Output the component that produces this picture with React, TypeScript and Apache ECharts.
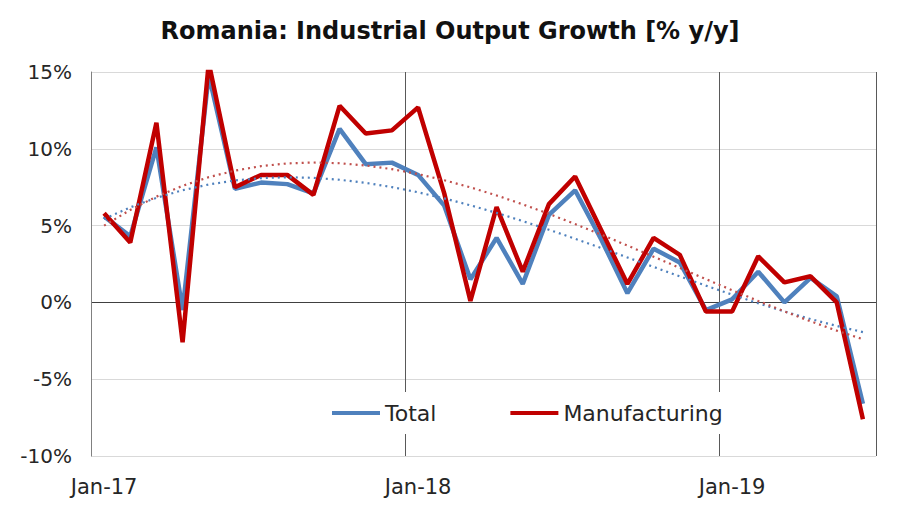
import React, { useEffect, useRef } from "react";
import * as echarts from "echarts";

// Monthly categories, Jan-17 .. Jun-19
const MONTHS = [
  "Jan-17", "Feb-17", "Mar-17", "Apr-17", "May-17", "Jun-17",
  "Jul-17", "Aug-17", "Sep-17", "Oct-17", "Nov-17", "Dec-17",
  "Jan-18", "Feb-18", "Mar-18", "Apr-18", "May-18", "Jun-18",
  "Jul-18", "Aug-18", "Sep-18", "Oct-18", "Nov-18", "Dec-18",
  "Jan-19", "Feb-19", "Mar-19", "Apr-19", "May-19", "Jun-19",
];

// Industrial output growth, % y/y
const TOTAL = [
  5.6, 4.3, 10.1, -0.5, 14.8, 7.4, 7.8, 7.7, 7.1, 11.3, 9.0, 9.1,
  8.3, 6.3, 1.5, 4.2, 1.2, 5.7, 7.3, 4.1, 0.6, 3.5, 2.6, -0.5,
  0.2, 2.0, 0.0, 1.6, 0.4, -6.6,
];
const MANUFACTURING = [
  5.8, 3.9, 11.7, -2.6, 15.6, 7.5, 8.3, 8.3, 7.0, 12.8, 11.0, 11.2,
  12.7, 7.1, 0.1, 6.2, 2.0, 6.4, 8.2, 4.7, 1.2, 4.2, 3.1, -0.6,
  -0.6, 3.0, 1.3, 1.7, 0.0, -7.6,
];

// Y axis range and step, in %
const Y_MIN = -10;
const Y_MAX = 15;
const Y_STEP = 5;

const BLUE = "#4F81BD";
const RED = "#C00000";
const RED_TREND = "#C0504D";

// Least-squares polynomial trend of a monthly series (x = 1..n)
function trendline(values: number[], order: number): number[] {
  const size = order + 1;
  const m: number[][] = [];
  for (let r = 0; r < size; r++) m.push(new Array(size + 1).fill(0));
  values.forEach((y, i) => {
    const x = i + 1;
    for (let r = 0; r < size; r++) {
      for (let c = 0; c < size; c++) m[r][c] += Math.pow(x, r + c);
      m[r][size] += Math.pow(x, r) * y;
    }
  });
  for (let c = 0; c < size; c++) {
    for (let r = c + 1; r < size; r++) {
      const f = m[r][c] / m[c][c];
      for (let k = c; k <= size; k++) m[r][k] -= f * m[c][k];
    }
  }
  const coef = new Array(size).fill(0);
  for (let r = size - 1; r >= 0; r--) {
    let v = m[r][size];
    for (let k = r + 1; k < size; k++) v -= m[r][k] * coef[k];
    coef[r] = v / m[r][r];
  }
  return values.map((_, i) => {
    const x = i + 1;
    let v = 0;
    for (let k = 0; k < size; k++) v += coef[k] * Math.pow(x, k);
    return +v.toFixed(3);
  });
}

export default function App() {
  const ref = useRef<HTMLDivElement>(null);

  useEffect(() => {
    if (!ref.current) return;
    const chart = echarts.init(ref.current, undefined, { renderer: "svg" });
    const font = "DejaVu Sans";

    chart.setOption({
      animation: false,
      backgroundColor: "#ffffff",
      textStyle: { fontFamily: font },
      title: {
        text: "Romania: Industrial Output Growth [% y/y]",
        left: "center",
        top: 19,
        padding: 0,
        textStyle: { fontFamily: font, fontSize: 24, fontWeight: "bold", color: "#111111" },
      },
      legend: {
        data: ["Total", "Manufacturing"],
        left: 322,
        top: 392,
        padding: [10, 10],
        backgroundColor: "#ffffff",
        icon: "rect",
        itemWidth: 48,
        itemHeight: 4,
        itemGap: 74,
        textStyle: { fontFamily: font, fontSize: 22, color: "#262626" },
      },
      grid: { left: 91, right: 24, top: 72, bottom: 54 },
      xAxis: {
        type: "category",
        data: MONTHS,
        boundaryGap: true,
        axisLine: { show: false },
        axisTick: { show: false },
        axisLabel: {
          interval: (i: number) => i % 12 === 0,
          margin: 20,
          fontFamily: font,
          fontSize: 21,
          color: "#262626",
        },
        splitLine: {
          show: true,
          interval: (i: number) => i > 0 && i % 12 === 0,
          lineStyle: { color: "#595959", width: 1 },
        },
      },
      yAxis: {
        type: "value",
        min: Y_MIN,
        max: Y_MAX,
        interval: Y_STEP,
        axisLine: { show: true, lineStyle: { color: "#808080", width: 1 } },
        axisTick: { show: false },
        axisLabel: {
          formatter: "{value}%",
          margin: 19,
          fontFamily: font,
          fontSize: 20,
          color: "#262626",
        },
        splitLine: {
          show: true,
          lineStyle: {
            color: ["#D9D9D9", "#D9D9D9", "#404040", "#D9D9D9", "#D9D9D9", "#D9D9D9"],
            width: 1,
          },
        },
      },
      series: [
        {
          name: "Total",
          type: "line",
          data: TOTAL,
          symbol: "none",
          color: BLUE,
          lineStyle: { color: BLUE, width: 4.5 },
          z: 3,
        },
        {
          name: "Manufacturing",
          type: "line",
          data: MANUFACTURING,
          symbol: "none",
          color: RED,
          lineStyle: { color: RED, width: 4.5 },
          z: 4,
        },
        {
          name: "Total trend",
          type: "line",
          data: trendline(TOTAL, 3),
          symbol: "none",
          lineStyle: { color: BLUE, width: 2.2, type: [2, 4] },
          z: 5,
        },
        {
          name: "Manufacturing trend",
          type: "line",
          data: trendline(MANUFACTURING, 3),
          symbol: "none",
          lineStyle: { color: RED_TREND, width: 2.2, type: [2, 4] },
          z: 5,
        },
      ],
    });

    return () => chart.dispose();
  }, []);

  return <div ref={ref} style={{ width: 900, height: 510, margin: -8 }} />;
}
